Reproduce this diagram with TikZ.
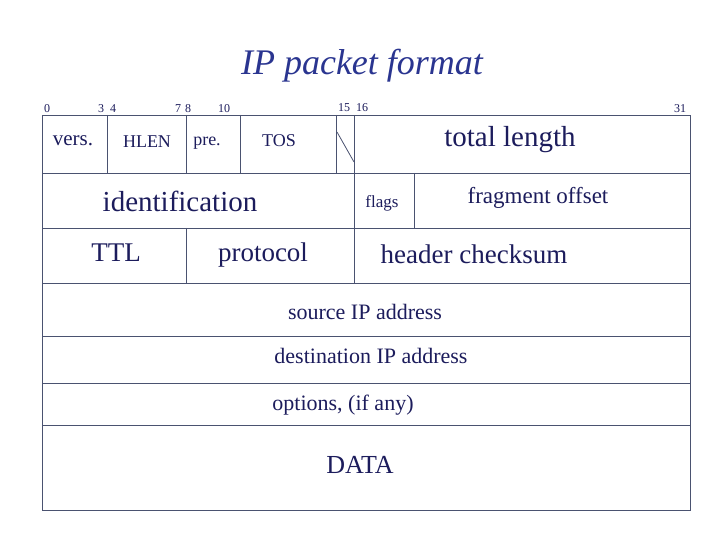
\documentclass[tikz,border=0pt]{standalone}
\usepackage{fontspec}
\setmainfont{Liberation Serif}
\definecolor{ink}{HTML}{1C1C5C}
\definecolor{ttl}{HTML}{2A3590}
\definecolor{ln}{HTML}{4A5270}
\begin{document}
\begin{tikzpicture}[x=1pt,y=-1pt,
  t/.style={text=ink,inner sep=0pt,anchor=center},
  bit/.style={text=ink,inner sep=0pt,font=\fontsize{12}{12}\selectfont}]
\useasboundingbox (0,0) rectangle (720,540);
\fill[white] (0,0) rectangle (720,540);
\node[t,text=ttl,font=\fontsize{36}{36}\selectfont\itshape] (title) at (362,66) {IP packet format};
\draw[ln,line width=0.8pt] (42,115) rectangle (690,510);
\foreach \y in {173,228,283,336,383,425} \draw[ln,line width=0.8pt] (42,\y) -- (690,\y);
\foreach \x in {107,186,240,336} \draw[ln,line width=0.8pt] (\x,115) -- (\x,173);
\draw[ln,line width=0.8pt] (354,115) -- (354,283);
\draw[ln,line width=0.8pt] (414,173) -- (414,228);
\draw[ln,line width=0.8pt] (186,228) -- (186,283);
\draw[ln,line width=0.8pt] (337,132) -- (354,162);
\node[bit] (b0) at (47,109) {0};
\node[bit] (b3) at (101,109) {3};
\node[bit] (b4) at (113,109) {4};
\node[bit] (b7) at (178,109) {7};
\node[bit] (b8) at (188,109) {8};
\node[bit] (b10) at (224,109) {10};
\node[bit] (b15) at (344,108) {15};
\node[bit] (b16) at (362,108) {16};
\node[bit] (b31) at (680,109) {31};
\node[t,font=\fontsize{21}{21}\selectfont] (vers) at (73,141) {vers.};
\node[t,font=\fontsize{18}{18}\selectfont] (hlen) at (147,142) {HLEN};
\node[t,font=\fontsize{18}{18}\selectfont] (pre) at (207,143) {pre.};
\node[t,font=\fontsize{18}{18}\selectfont] (tos) at (279,141) {TOS};
\node[t,font=\fontsize{29}{29}\selectfont] (tl) at (510,140) {total length};
\node[t,font=\fontsize{29}{29}\selectfont] (id) at (180,201) {identification};
\node[t,font=\fontsize{17}{17}\selectfont] (fl) at (382,203) {flags};
\node[t,font=\fontsize{23}{23}\selectfont] (fo) at (538,198) {fragment offset};
\node[t,font=\fontsize{27}{27}\selectfont] (ttl) at (116,253) {TTL};
\node[t,font=\fontsize{27}{27}\selectfont] (pr) at (263,255) {protocol};
\node[t,font=\fontsize{27}{27}\selectfont] (hc) at (474,254) {header checksum};
\node[t,font=\fontsize{22}{22}\selectfont] (src) at (365,312) {source IP address};
\node[t,font=\fontsize{22}{22}\selectfont] (dst) at (371,356) {destination IP address};
\node[t,font=\fontsize{22}{22}\selectfont] (opt) at (343,405) {options, (if any)};
\node[t,font=\fontsize{26}{26}\selectfont] (data) at (360,465) {DATA};
\end{tikzpicture}
\end{document}
